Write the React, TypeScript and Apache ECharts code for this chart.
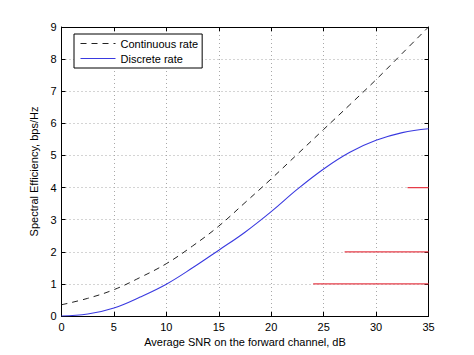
import React, { useEffect, useRef } from "react";
import * as echarts from "echarts";

const snrDb = [0, 2.5, 5, 7.5, 10, 12.5, 15, 17.5, 20, 22.5, 25, 27.5, 30, 32.5, 35];
const continuousRate = [0.35, 0.55, 0.82, 1.2, 1.63, 2.18, 2.8, 3.53, 4.27, 5.04, 5.81, 6.58, 7.36, 8.18, 9.0];
const discreteRate = [0, 0.06, 0.25, 0.59, 0.99, 1.5, 2.05, 2.61, 3.25, 3.95, 4.58, 5.1, 5.47, 5.71, 5.83];
const levelValues = [1, 2, 4];
const levelStarts = [24, 27, 33];
const levelEnd = 35;

const FONT = "'Liberation Sans', Arial, Helvetica, sans-serif";

export default function App() {
  const ref = useRef<HTMLDivElement>(null);
  useEffect(() => {
    if (!ref.current) return;
    const chart = echarts.init(ref.current, undefined, { renderer: "svg" });
    const gridLine = { show: true, lineStyle: { color: "#a8a8a8", type: [1, 3] as any, width: 1 } };
    const levelSeries = levelValues.map((v, i) => ({
      name: "level" + i,
      type: "line",
      data: [
        [levelStarts[i], v],
        [levelEnd, v],
      ],
      showSymbol: false,
      symbol: "none",
      lineStyle: { color: "#e63c48", width: 1.2 },
      itemStyle: { color: "#e63c48" },
      z: 3,
    }));
    chart.setOption({
      animation: false,
      backgroundColor: "#ffffff",
      textStyle: { fontFamily: FONT },
      grid: { left: 61.5, right: 45.5, top: 27, bottom: 39, containLabel: false },
      legend: {
        data: ["Continuous rate", "Discrete rate"],
        orient: "vertical",
        left: 74,
        top: 34,
        padding: [4, 4, 4, 6],
        itemWidth: 35,
        itemHeight: 12,
        itemGap: 4,
        itemStyle: { opacity: 0 },
        lineStyle: { width: 1 },
        backgroundColor: "#ffffff",
        borderColor: "#000000",
        borderWidth: 1,
        borderRadius: 0,
        textStyle: { fontFamily: FONT, fontSize: 11, color: "#000" },
      },
      xAxis: [
        {
          type: "value",
          min: 0,
          max: 35,
          interval: 5,
          name: "Average SNR on the forward channel, dB",
          nameLocation: "middle",
          nameGap: 17,
          nameTextStyle: { fontFamily: FONT, fontSize: 11, color: "#000" },
          axisLine: { show: true, onZero: false, lineStyle: { color: "#000", width: 1 } },
          axisTick: { show: true, inside: true, length: 4, lineStyle: { color: "#000" } },
          axisLabel: { fontFamily: FONT, fontSize: 11, color: "#000", margin: 5 },
          splitLine: gridLine,
        },
        {
          type: "value",
          position: "top",
          min: 0,
          max: 35,
          interval: 5,
          axisLine: { show: true, onZero: false, lineStyle: { color: "#000", width: 1 } },
          axisTick: { show: true, inside: true, length: 4, lineStyle: { color: "#000" } },
          axisLabel: { show: false },
          splitLine: { show: false },
        },
      ],
      yAxis: [
        {
          type: "value",
          min: 0,
          max: 9,
          interval: 1,
          name: "Spectral Efficiency, bps/Hz",
          nameLocation: "middle",
          nameGap: 15,
          nameTextStyle: { fontFamily: FONT, fontSize: 11, color: "#000" },
          axisLine: { show: true, onZero: false, lineStyle: { color: "#000", width: 1 } },
          axisTick: { show: true, inside: true, length: 4, lineStyle: { color: "#000" } },
          axisLabel: { fontFamily: FONT, fontSize: 11, color: "#000", margin: 5 },
          splitLine: gridLine,
        },
        {
          type: "value",
          position: "right",
          min: 0,
          max: 9,
          interval: 1,
          axisLine: { show: true, onZero: false, lineStyle: { color: "#000", width: 1 } },
          axisTick: { show: true, inside: true, length: 4, lineStyle: { color: "#000" } },
          axisLabel: { show: false },
          splitLine: { show: false },
        },
      ],
      series: [
        {
          name: "Continuous rate",
          type: "line",
          data: snrDb.map((x, i) => [x, continuousRate[i]]),
          smooth: 0.4,
          showSymbol: false,
          symbol: "none",
          lineStyle: { color: "#222", width: 1, type: [6, 5] },
          itemStyle: { color: "#222" },
          z: 4,
        },
        {
          name: "Discrete rate",
          type: "line",
          data: snrDb.map((x, i) => [x, discreteRate[i]]),
          smooth: 0.4,
          showSymbol: false,
          symbol: "none",
          lineStyle: { color: "#3a3ae0", width: 1.1 },
          itemStyle: { color: "#3a3ae0" },
          z: 4,
        },
        ...levelSeries,
      ],
    });
    return () => chart.dispose();
  }, []);
  return <div ref={ref} style={{ width: 474, height: 355, position: "absolute", left: 0, top: 0 }} />;
}
